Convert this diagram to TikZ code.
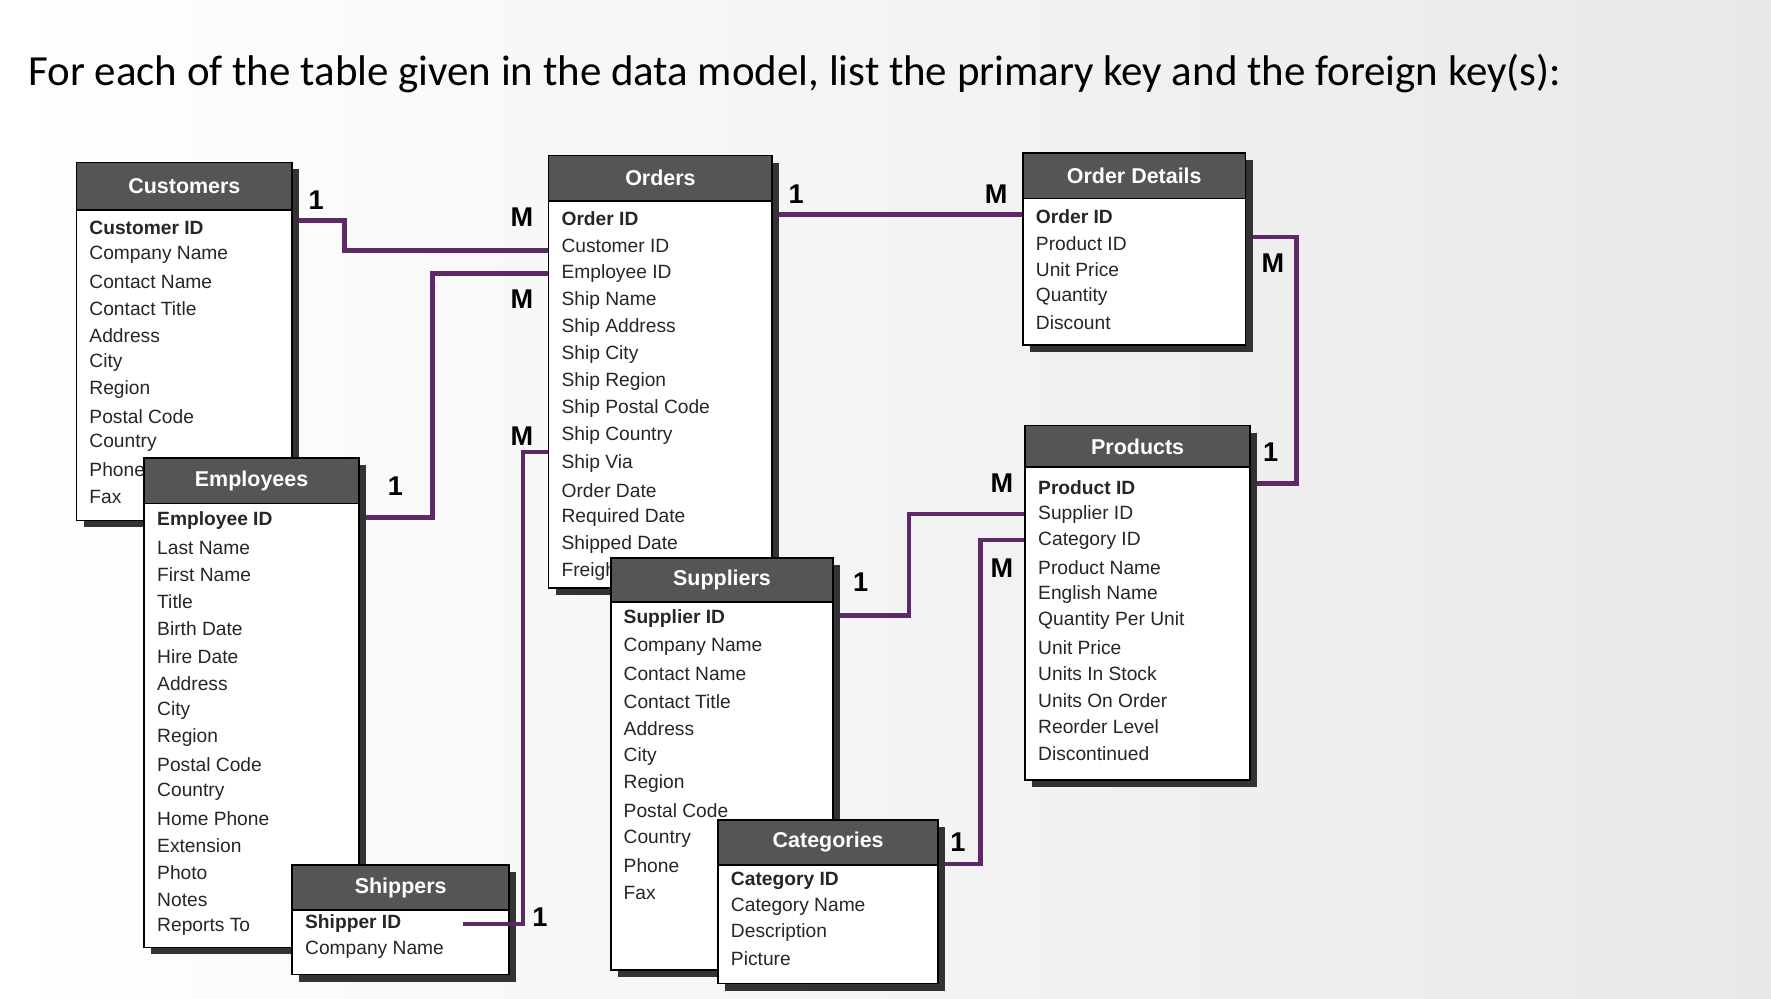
\documentclass[tikz,border=0pt]{standalone}
\usepackage{fontspec}
\setmainfont{Liberation Sans}
\newfontfamily\titlefont{Carlito}
\definecolor{conn}{RGB}{95,40,105}
\definecolor{hdr}{RGB}{85,85,85}
\definecolor{bg}{RGB}{232,232,232}
\tikzset{
 item/.style={anchor=west,inner sep=0pt,font=\fontsize{17}{18}\selectfont,text=black!85},
 lbl/.style={font=\bfseries\fontsize{24}{26}\selectfont,inner sep=0pt},
 link/.style={conn,line width=4pt},
}
\newcommand\tbl[9]{%
 \fill[black!80] (#2+7,#3+7) rectangle (#4+7,#6+7);
 \node[draw=black,line width=1.5pt,fill=white,minimum width=#4pt-#2pt,minimum height=#6pt-#3pt,anchor=north west,inner sep=0pt] (#1) at (#2,#3) {};
 \node[draw=black,line width=1.5pt,fill=hdr,text=white,font=\bfseries\fontsize{19}{20}\selectfont,minimum width=#4pt-#2pt,minimum height=#5pt-#3pt,anchor=north west,inner sep=0pt] (#1h) at (#2,#3) {#7};
 \foreach \t [count=\i] in \items {\node[item] at (#2+12,#8+\i*#9-#9) {\t};}
}
\begin{document}
\begin{tikzpicture}[x=1pt,y=-1pt]
\useasboundingbox (0,0) rectangle (1568,884);
\shade[left color=white,right color=bg] (0,0) rectangle (1568,884);
\node[anchor=west,inner sep=0pt,font=\titlefont\fontsize{38}{40}\selectfont] (title) at (25,65) {For each of the table given in the data model, list the primary key and the foreign key(s):};
% connectors endpoints
\coordinate (c1a) at (258,195); \coordinate (c1b) at (485,222);
\coordinate (c2a) at (317,458); \coordinate (c2b) at (485,242);
\coordinate (c3a) at (410,818); \coordinate (c3b) at (485,400);
\coordinate (c4a) at (683,190); \coordinate (c4b) at (905,190);
\coordinate (c5a) at (1102,210); \coordinate (c5b) at (1106,428);
\coordinate (c6a) at (737,545); \coordinate (c6b) at (907,455);
\coordinate (c7a) at (830,765); \coordinate (c7b) at (907,478);
\draw[link] (c1a) -- (305,195) -- (305,222) -- (c1b);
\draw[link] (c2a) -- (383,458) -- (383,242) -- (c2b);
\draw[link] (463,818) -- (463,400) -- (c3b);
\draw[link] (c4a) -- (c4b);
\draw[link] (c5a) -- (1148,210) -- (1148,428) -- (c5b);
\draw[link] (c6a) -- (805,545) -- (805,455) -- (c6b);
\draw[link] (c7a) -- (868,765) -- (868,478) -- (c7b);
% tables
\def\items{\textbf{Customer ID},Company Name,Contact Name,Contact Title,Address,City,Region,Postal Code,Country,Phone,Fax}
\tbl{cust}{67}{143}{258}{185}{460}{Customers}{202}{23.8}
\def\items{\textbf{Employee ID},Last Name,First Name,Title,Birth Date,Hire Date,Address,City,Region,Postal Code,Country,Home Phone,Extension,Photo,Notes,Reports To}
\tbl{emp}{127}{405}{317}{445}{838}{Employees}{461}{24}
\def\items{\textbf{Shipper ID},Company Name}
\tbl{ship}{258}{765}{450}{805}{862}{Shippers}{818}{23}
\draw[link] (c3a) -- (465,818);
\def\items{\textbf{Order ID},Customer ID,Employee ID,Ship Name,Ship Address,Ship City,Ship Region,Ship Postal Code,Ship Country,Ship Via,Order Date,Required Date,Shipped Date,Freight}
\tbl{ord}{485}{137}{683}{177}{520}{Orders}{194}{24}
\def\items{\textbf{Supplier ID},Company Name,Contact Name,Contact Title,Address,City,Region,Postal Code,Country,Phone,Fax}
\tbl{sup}{540}{493}{737}{532}{858}{Suppliers}{548}{24.3}
\def\items{\textbf{Category ID},Category Name,Description,Picture}
\tbl{cat}{635}{725}{830}{765}{870}{Categories}{780}{23}
\def\items{\textbf{Order ID},Product ID,Unit Price,Quantity,Discount}
\tbl{od}{905}{135}{1102}{175}{305}{Order Details}{192}{23.5}
\def\items{\textbf{Product ID},Supplier ID,Category ID,Product Name,English Name,Quantity Per Unit,Unit Price,Units In Stock,Units On Order,Reorder Level,Discontinued}
\tbl{prod}{907}{376}{1106}{413}{690}{Products}{432}{23.5}
% labels
\node[lbl] (l1) at (280,177) {1}; \node[lbl] (l2) at (462,192) {M};
\node[lbl] (l3) at (350,430) {1}; \node[lbl] (l4) at (462,265) {M};
\node[lbl] (l5) at (478,812) {1}; \node[lbl] (l6) at (462,386) {M};
\node[lbl] (l7) at (705,172) {1}; \node[lbl] (l8) at (882,172) {M};
\node[lbl] (l9) at (1127,233) {M}; \node[lbl] (l10) at (1125,400) {1};
\node[lbl] (l11) at (762,515) {1}; \node[lbl] (l12) at (887,428) {M};
\node[lbl] (l13) at (848,746) {1}; \node[lbl] (l14) at (887,503) {M};
\end{tikzpicture}
\end{document}
